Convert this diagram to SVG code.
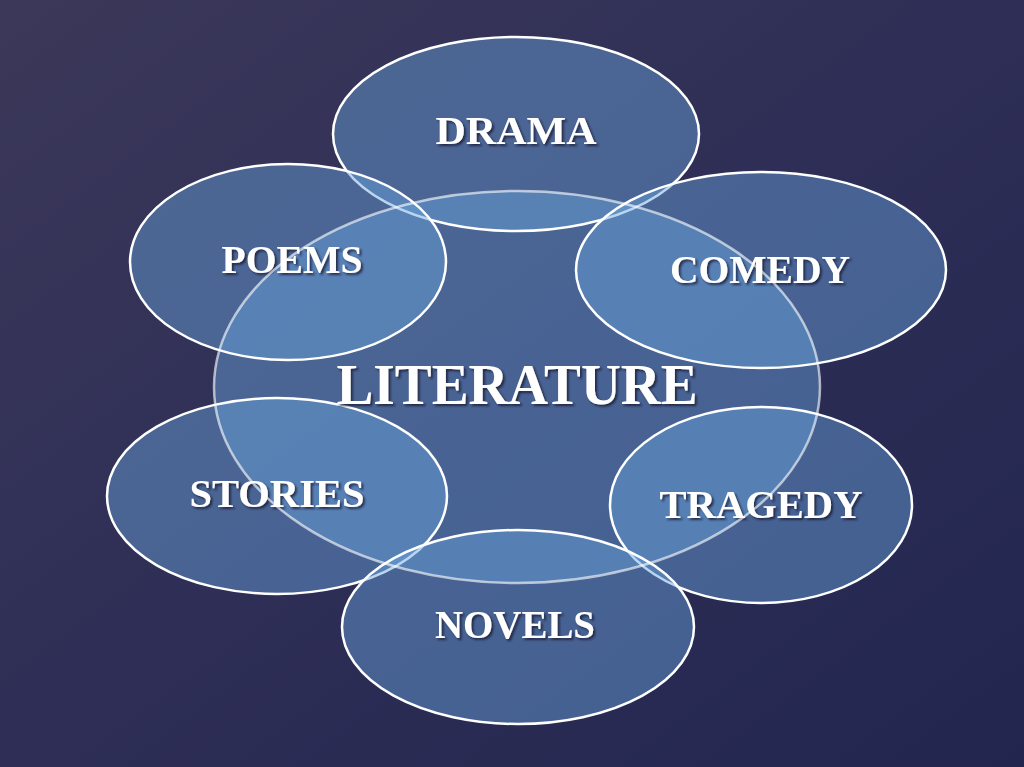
<svg xmlns="http://www.w3.org/2000/svg" width="1024" height="767" viewBox="0 0 1024 767">
  <defs>
    <linearGradient id="bg" x1="0" y1="0" x2="1" y2="1">
      <stop offset="0" stop-color="#3b3859"/>
      <stop offset="0.5" stop-color="#2e2e56"/>
      <stop offset="1" stop-color="#22264f"/>
    </linearGradient>
    <filter id="shadow" x="-10%" y="-30%" width="120%" height="160%">
      <feDropShadow dx="2" dy="2" stdDeviation="1.2" flood-color="#141834" flood-opacity="0.8"/>
    </filter>
    <style>
      .sat { fill: rgb(104,163,220); fill-opacity: 0.46; stroke: #ffffff; stroke-width: 2.5; }
      .core { fill: rgb(104,163,220); fill-opacity: 0.46; stroke: none; }
      .coreline { fill: none; stroke: #ffffff; stroke-opacity: 0.62; stroke-width: 2.5; }
      .lbl { font-family: "Liberation Serif", "Times New Roman", serif; font-weight: bold; fill: #ffffff; text-anchor: middle; filter: url(#shadow); }
      .s { font-size: 40px; }
      .big { font-size: 56px; }
    </style>
  </defs>
  <rect width="1024" height="767" fill="url(#bg)"/>

  <g id="literature">
    <ellipse class="core" cx="517" cy="387" rx="303" ry="196"/>
  </g>

  <g id="drama">
    <ellipse class="sat" cx="516" cy="134" rx="183" ry="97"/>
    <text class="lbl s" x="516" y="144" textLength="161" lengthAdjust="spacingAndGlyphs">DRAMA</text>
  </g>
  <g id="poems">
    <ellipse class="sat" cx="288" cy="262" rx="158" ry="98"/>
    <text class="lbl s" x="292" y="273" textLength="141" lengthAdjust="spacingAndGlyphs">POEMS</text>
  </g>
  <g id="comedy">
    <ellipse class="sat" cx="761" cy="270" rx="185" ry="98"/>
    <text class="lbl s" x="760" y="283" textLength="180" lengthAdjust="spacingAndGlyphs">COMEDY</text>
  </g>
  <g id="stories">
    <ellipse class="sat" cx="277" cy="496" rx="170" ry="98"/>
    <text class="lbl s" x="277" y="507" textLength="175" lengthAdjust="spacingAndGlyphs">STORIES</text>
  </g>
  <g id="tragedy">
    <ellipse class="sat" cx="761" cy="505" rx="151" ry="98"/>
    <text class="lbl s" x="761" y="518" textLength="203" lengthAdjust="spacingAndGlyphs">TRAGEDY</text>
  </g>
  <g id="novels">
    <ellipse class="sat" cx="518" cy="627" rx="176" ry="97"/>
    <text class="lbl s" x="515" y="638" textLength="160" lengthAdjust="spacingAndGlyphs">NOVELS</text>
  </g>

  <g id="literature-label">
    <ellipse class="coreline" cx="517" cy="387" rx="303" ry="196"/>
    <text class="lbl big" x="517" y="404" textLength="361" lengthAdjust="spacingAndGlyphs">LITERATURE</text>
  </g>
</svg>
